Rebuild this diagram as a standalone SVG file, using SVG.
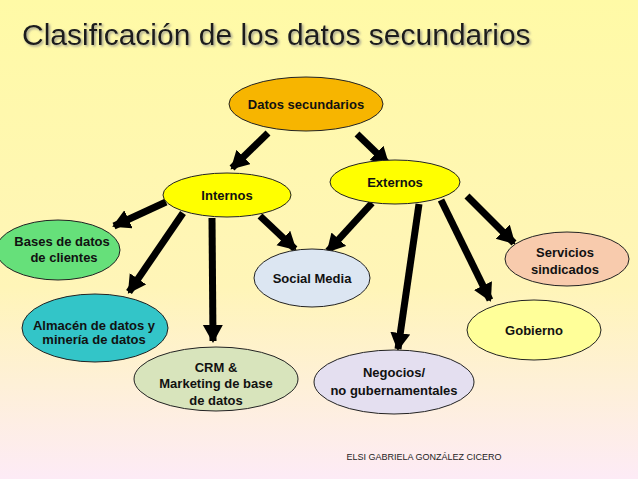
<svg xmlns="http://www.w3.org/2000/svg" width="638" height="479" viewBox="0 0 638 479">
<defs>
<linearGradient id="bg" x1="0" y1="0" x2="0" y2="1">
<stop offset="0" stop-color="#fffaa6"/><stop offset="0.6" stop-color="#fff5b8"/><stop offset="1" stop-color="#fdebf6"/>
</linearGradient>
<filter id="sh" x="-5%" y="-20%" width="110%" height="150%"><feDropShadow dx="1.5" dy="1.5" stdDeviation="0.8" flood-color="#888" flood-opacity="0.8"/></filter>
<marker id="ah" markerUnits="userSpaceOnUse" markerWidth="22" markerHeight="22" refX="16" refY="10" orient="auto">
<path d="M0,0 L18,10 L0,20 Z" fill="#000"/>
</marker>
<style>
.n{stroke:#222;stroke-width:1}
.t{font-family:"Liberation Sans",Arial,sans-serif;font-weight:bold;font-size:13px;fill:#111;text-anchor:middle}
.c line{stroke:#000;stroke-width:7;marker-end:url(#ah)}
</style>
</defs>
<rect width="638" height="479" fill="url(#bg)"/>
<text x="22" y="45" font-family="'Liberation Sans',Arial,sans-serif" font-size="30" fill="#1a1a1a" filter="url(#sh)">Clasificación de los datos secundarios</text>
<g class="c">
<line x1="268" y1="133" x2="232" y2="168"/>
<line x1="357" y1="134" x2="388" y2="164"/>
<line x1="166" y1="202" x2="114" y2="226"/>
<line x1="183" y1="213" x2="129" y2="292"/>
<line x1="212" y1="218" x2="213" y2="341"/>
<line x1="260" y1="216" x2="295" y2="249"/>
<line x1="372" y1="203" x2="328" y2="251"/>
<line x1="419" y1="204" x2="398" y2="349"/>
<line x1="441" y1="200" x2="490" y2="300"/>
<line x1="467" y1="196" x2="514" y2="243"/>
</g>
<g id="datos"><ellipse class="n" cx="306" cy="104" rx="77" ry="27" fill="#f7b500"/><text class="t" x="306" y="109">Datos secundarios</text></g>
<g id="internos"><ellipse class="n" cx="227" cy="195" rx="64" ry="22" fill="#ffff00"/><text class="t" x="227" y="200">Internos</text></g>
<g id="externos"><ellipse class="n" cx="395" cy="182" rx="65" ry="22" fill="#ffff00"/><text class="t" x="395" y="187">Externos</text></g>
<g id="bases"><ellipse class="n" cx="58" cy="250" rx="62" ry="30" fill="#66e07a"/><text class="t" x="62" y="246">Bases de datos</text><text class="t" x="64" y="262">de clientes</text></g>
<g id="almacen"><ellipse class="n" cx="95" cy="328" rx="73" ry="34" fill="#33c5c8"/><text class="t" x="94" y="330">Almacén de datos y</text><text class="t" x="94" y="344">minería de datos</text></g>
<g id="crm"><ellipse class="n" cx="216" cy="379" rx="82" ry="32" fill="#d8e4bc"/><text class="t" x="216" y="372">CRM &amp;</text><text class="t" x="216" y="388">Marketing de base</text><text class="t" x="216" y="405">de datos</text></g>
<g id="social"><ellipse class="n" cx="312" cy="278" rx="58" ry="29" fill="#dce6f2"/><text class="t" x="312" y="283">Social Media</text></g>
<g id="negocios"><ellipse class="n" cx="394" cy="382" rx="80" ry="32" fill="#e4dff0"/><text class="t" x="394" y="377">Negocios/</text><text class="t" x="394" y="395">no gubernamentales</text></g>
<g id="gobierno"><ellipse class="n" cx="534" cy="330" rx="67" ry="30" fill="#ffff99"/><text class="t" x="534" y="335">Gobierno</text></g>
<g id="servicios"><ellipse class="n" cx="567" cy="259" rx="62" ry="27" fill="#f8cbad"/><text class="t" x="565" y="257">Servicios</text><text class="t" x="565" y="274">sindicados</text></g>
<text x="424" y="460" font-family="'Liberation Sans',Arial,sans-serif" font-size="9" fill="#222" text-anchor="middle">ELSI GABRIELA GONZÁLEZ CICERO</text>
</svg>
